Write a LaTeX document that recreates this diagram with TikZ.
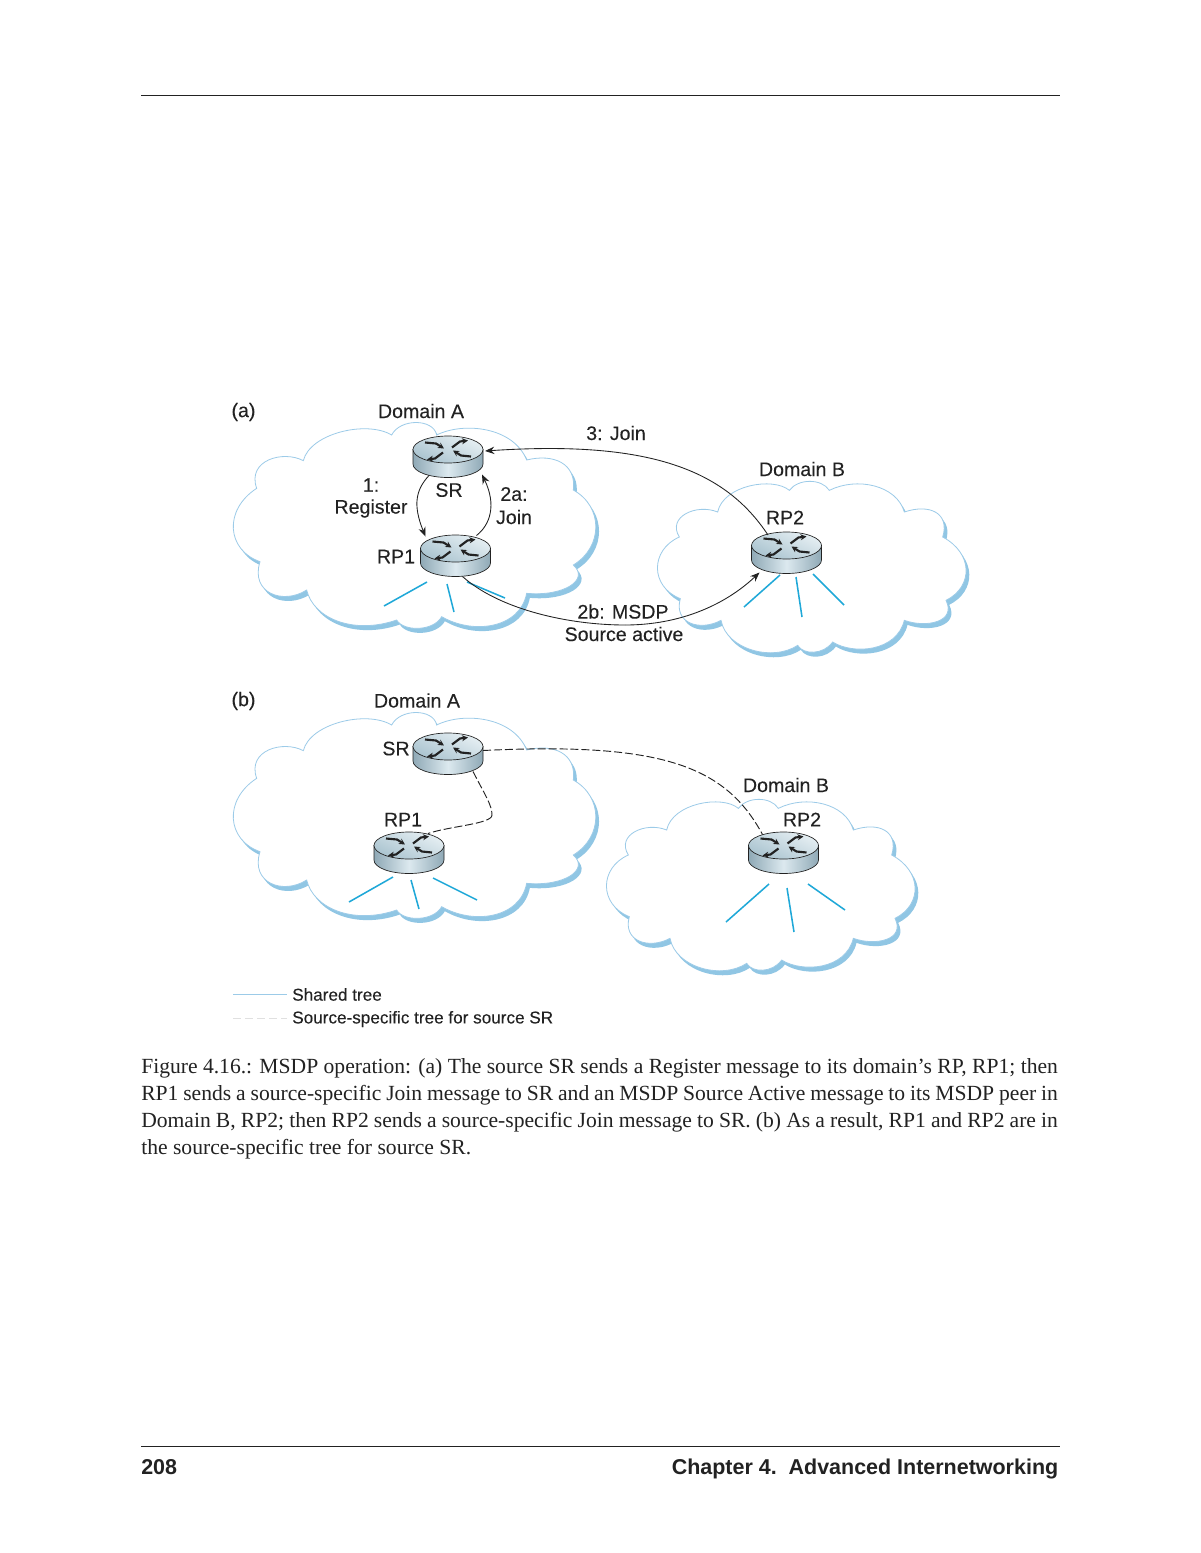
\documentclass[tikz,border=0pt]{standalone}
\usepackage{fontspec}
\setmainfont{Liberation Sans}
\newfontfamily\figfont[FakeBold=0.12]{Liberation Sans}
\newfontfamily\capfont{Liberation Serif}
\usetikzlibrary{arrows.meta}
\definecolor{cloudline}{HTML}{9CCBE8}
\definecolor{cloudshadow}{HTML}{90C6E4}
\definecolor{treeblue}{HTML}{1FA8D8}
\definecolor{ink}{HTML}{222222}
\definecolor{bodyside}{HTML}{8FA9B6}
\definecolor{bodymid}{HTML}{DCE9EF}
\definecolor{topa}{HTML}{E6EFF3}
\definecolor{topb}{HTML}{A9C3CF}
\tikzset{
  rbox/.style={inner sep=0pt,outer sep=0pt,minimum width=52.5pt,minimum height=31.5pt,draw=none},
  lab/.style={inner sep=0pt,font=\figfont\fontsize{14.7}{17}\selectfont,text=ink,align=center},
  leg/.style={inner sep=0pt,anchor=west,font=\figfont\fontsize{12.85}{15}\selectfont,text=ink},
  foot/.style={inner sep=0pt,font=\fontsize{16.1}{19}\selectfont\bfseries,text=ink},
  shared/.style={draw=treeblue,line width=1.15pt},
  msg/.style={draw=ink,line width=.65pt},
  tip/.style={-{Stealth[length=7pt,width=5.5pt]}},
  sstree/.style={draw=ink,line width=.7pt,dash pattern=on 6pt off 2.2pt},
  rule/.style={draw=ink,line width=.7pt},
}
\def\cloudA{(250,212) .. controls (270,130) and (440,90) .. (515,135)
 .. controls (540,85) and (640,85) .. (650,135)
 .. controls (730,95) and (880,110) .. (920,210)
 .. controls (1000,190) and (1070,220) .. (1060,300)
 .. controls (1150,350) and (1150,470) .. (1060,525)
 .. controls (1110,570) and (1030,620) .. (920,610)
 .. controls (900,715) and (760,735) .. (665,680)
 .. controls (640,725) and (550,725) .. (530,690)
 .. controls (400,735) and (280,685) .. (260,600)
 .. controls (190,645) and (90,610) .. (120,515)
 .. controls (20,480) and (10,360) .. (110,295)
 .. controls (80,210) and (190,180) .. (250,212) -- cycle}
\def\cloudB{(473,276) .. controls (490,195) and (640,170) .. (688,211)
 .. controls (715,175) and (785,175) .. (808,211)
 .. controls (890,170) and (1010,195) .. (1033,276)
 .. controls (1110,250) and (1170,280) .. (1148,351)
 .. controls (1240,400) and (1240,500) .. (1158,541)
 .. controls (1190,605) and (1100,625) .. (1033,601)
 .. controls (1010,695) and (880,705) .. (818,666)
 .. controls (790,705) and (730,705) .. (713,676)
 .. controls (640,725) and (500,690) .. (483,601)
 .. controls (420,635) and (340,610) .. (361,536)
 .. controls (270,500) and (270,390) .. (358,351)
 .. controls (320,290) and (410,250) .. (473,276) -- cycle}
% #1 path macro, #2 x shift, #3 y shift (pixels)
\newcommand\cloudshape[3]{%
  \begin{scope}[shift={(#2+3.2,#3+4.5)},x=.25pt,y=-.25pt]
    \fill[cloudshadow] #1;
  \end{scope}
  \begin{scope}[shift={(#2,#3)},x=.25pt,y=-.25pt]
    \filldraw[fill=white,draw=cloudline,line width=.6pt] #1;
  \end{scope}}
% #1 name, #2 cx, #3 cy of the top ellipse
\newcommand\router[3]{%
  \node[rbox] (#1) at (#2,#3+7) {};
  \begin{scope}[shift={(#2,#3)}]
    \shade[left color=bodyside,right color=bodyside,middle color=bodymid,draw=ink,line width=.5pt]
      (-35,0) -- (-35,14.5) .. controls (-35,22) and (-19.3,28) .. (0,28)
      .. controls (19.3,28) and (35,22) .. (35,14.5) -- (35,0) -- cycle;
    \shade[top color=topa,bottom color=topb,shading angle=-25,draw=ink,line width=.5pt]
      (0,0) ellipse[x radius=35,y radius=13.5];
    \draw[ink,line width=1.6pt,-{Stealth[length=4.5pt,width=4.5pt]}] (-23,-7) -- (-12,-6) -- (-4,-1);
    \draw[ink,line width=1.6pt,-{Stealth[length=4.5pt,width=4.5pt]}] (-5,3) -- (-13,9) -- (-21,10);
    \draw[ink,line width=1.6pt,-{Stealth[length=4.5pt,width=4.5pt]}] (4,-2) -- (12,-8) -- (20,-9);
    \draw[ink,line width=1.6pt,-{Stealth[length=4.5pt,width=4.5pt]}] (23,7) -- (13,6) -- (5,1);
  \end{scope}}
% #1 name, #2 start, #3 end
\newcommand\stub[3]{%
  \coordinate (#1s) at #2;
  \coordinate (#1e) at #3;
  \draw[shared] (#1s) -- (#1e);}
\begin{document}
\begin{tikzpicture}[x=.75pt,y=-.75pt]
\path[use as bounding box,fill=white] (0,0) rectangle (1200,1553);
% page furniture
\coordinate (hl) at (141,95.5); \coordinate (hr) at (1060,95.5);
\coordinate (fl) at (141,1446); \coordinate (fr) at (1060,1446);
\draw[rule] (hl) -- (hr);
\draw[rule] (fl) -- (fr);
\node[foot,anchor=base west] (pg) at (141,1474) {208};
\node[foot,anchor=base east] (chap) at (1058.5,1474) {Chapter 4.\ \ Advanced Internetworking};
% clouds
\cloudshape{\cloudA}{220}{390}
\cloudshape{\cloudB}{560}{420}
\cloudshape{\cloudA}{220}{680}
\cloudshape{\cloudB}{509}{738}
% routers
\router{sra}{448}{449.5}
\router{rpa}{455.5}{548.5}
\router{rpb}{786.5}{545.5}
\router{srb}{448}{746.5}
\router{rpc}{409}{845.5}
\router{rpd}{783.5}{845.5}
% shared tree stubs
\stub{a1}{(427,582)}{(384,606)}
\stub{a2}{(447,584)}{(454,612)}
\stub{a3}{(467,582)}{(505,598)}
\stub{b1}{(780,575)}{(744,607)}
\stub{b2}{(796,577)}{(802,617)}
\stub{b3}{(813,574)}{(844,605)}
\stub{c1}{(393,877)}{(349,902)}
\stub{c2}{(411,880)}{(419,909)}
\stub{c3}{(433,878)}{(477,900)}
\stub{d1}{(769,884)}{(726,922)}
\stub{d2}{(787,888)}{(794,932)}
\stub{d3}{(808,884)}{(845,910)}
% messages, panel a
\draw[msg,tip] ([shift={(16,-2)}]sra.south west) .. controls ([shift={(3,12)}]sra.south west) and ([shift={(-8,-30)}]rpa.north west) .. ([shift={(5,2)}]rpa.north west);
\draw[msg,tip] ([shift={(-14,1)}]rpa.north east) .. controls ([shift={(0,-10)}]rpa.north east) and ([shift={(6,-30)}]rpa.north east) .. ([shift={(-1,-3)}]sra.south east);
\draw[msg,tip] ([shift={(16.5,3.5)}]rpb.north west) .. controls (725,470) and (650,440) .. ([shift={(2,-5.5)}]sra.east);
\draw[msg] ([shift={(-28,0)}]rpa.south east) .. controls (500,610) and (570,625) .. (625,625) coordinate (mid2b);
\draw[msg,tip] (mid2b) .. controls (680,625) and (725,605) .. ([shift={(8,-1)}]rpb.south west);
% messages, panel b
\draw[sstree] ([shift={(0,-3)}]srb.east) .. controls (660,742) and (725,765) .. ([shift={(14,3)}]rpd.north west);
\draw[sstree] ([shift={(-10,-3)}]srb.south east) .. controls (485,795) and (492,805) .. (492,815) coordinate (kink);
\draw[sstree] (kink) .. controls (492,824) and (450,826) .. ([shift={(-16,2)}]rpc.north east);
% labels
\node[lab] (la) at (243.5,412) {(a)};
\node[lab] (da) at (421,411) {Domain A};
\node[lab] (j3) at (616,433) {3: Join};
\node[lab] (db) at (802,469) {Domain B};
\node[lab] (r1) at (371,485) {1:};
\node[lab] (r2) at (371,508.5) {Register};
\node[lab] (tsr) at (449,490) {SR};
\node[lab] (j1) at (514,494) {2a:};
\node[lab] (j2) at (514,517) {Join};
\node[lab] (trp1) at (396,556.5) {RP1};
\node[lab] (trp2) at (785,517.5) {RP2};
\node[lab] (m1) at (623,611.5) {2b: MSDP};
\node[lab] (m2) at (624,634) {Source active};
\node[lab] (lb) at (243.5,701) {(b)};
\node[lab] (da2) at (417,700.5) {Domain A};
\node[lab] (tsr2) at (396,748.5) {SR};
\node[lab] (trp3) at (403,819.5) {RP1};
\node[lab] (db2) at (786,785) {Domain B};
\node[lab] (trp4) at (802,819.5) {RP2};
% legend
\coordinate (l1a) at (233,994.5); \coordinate (l1b) at (287,994.5);
\coordinate (l2a) at (233,1018.5); \coordinate (l2b) at (287,1018.5);
\draw[draw=cloudline,line width=.8pt] (l1a) -- (l1b);
\draw[draw=black!12,line width=.7pt,dash pattern=on 6pt off 3pt] (l2a) -- (l2b);
\node[leg] (t1) at (292,994.5) {Shared tree};
\node[leg] (t2) at (292,1019) {Source-specific tree for source SR};
% caption
\node[anchor=north west,inner sep=0pt,text width=687.5pt,align=justify,text=ink,
      font=\capfont\fontsize{16.2}{20.25}\selectfont] (cap) at (141,1058)
 {Figure 4.16.: MSDP operation: (a) The source SR sends a Register message to its domain’s RP, RP1; then\linebreak
  RP1 sends a source-specific Join message to SR and an MSDP Source Active message to its MSDP peer in\linebreak
  Domain B, RP2; then RP2 sends a source-specific Join message to SR. (b) As a result, RP1 and RP2 are in\linebreak
  the source-specific tree for source SR.};
\end{tikzpicture}
\end{document}
